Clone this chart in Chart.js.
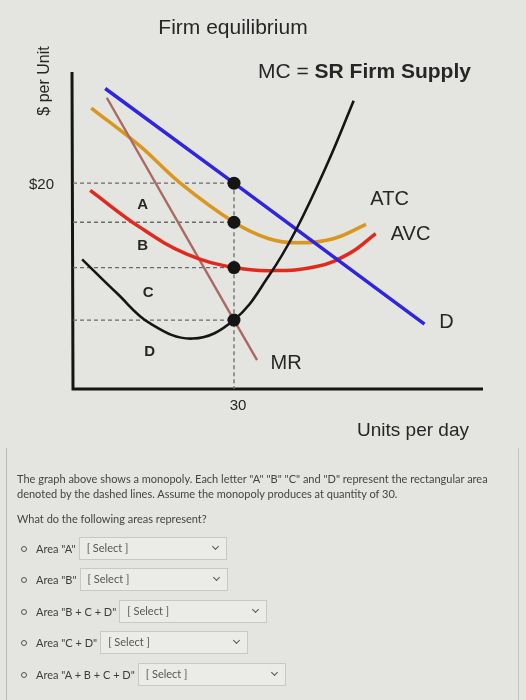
<!DOCTYPE html>
<html>
<head>
<meta charset="utf-8">
<script src="https://cdn.jsdelivr.net/npm/chart.js@4.4.1/dist/chart.umd.min.js"></script>
<style>
  html, body { margin: 0; padding: 0; }
  body { width: 526px; height: 700px; background: #e4e4e0; overflow: hidden; position: relative; font-family: Lato, sans-serif; }
  #chartCanvas { position: absolute; left: 0; top: 0; }
  .card { position: absolute; left: 6px; top: 448px; width: 511px; height: 260px; border-left: 1px solid #b9b9b6; border-right: 1px solid #c4c4c0; }
  .card p { margin: 0; position: absolute; left: 10px; color: #444; font-size: 11px; line-height: 15px; }
  .q1 { top: 23px; width: 490px; }
  .q2 { top: 63px; }
  .row { position: absolute; left: 14px; height: 23px; display: flex; align-items: center; font-size: 11px; color: #3d3d3d; }
  .row .dot { width: 4px; height: 4px; border: 1px solid #555; border-radius: 50%; margin-right: 9px; }
  .sel { margin-left: 3px; width: 148px; height: 23px; border: 1px solid #c8c8c4; background: #ebebe8; position: relative; box-sizing: border-box; }
  .sel span { position: absolute; left: 7px; top: 3px; font-size: 11px; color: #555; }
  .sel i { position: absolute; right: 8px; top: 6px; width: 4px; height: 4px; border-right: 1.5px solid #555; border-bottom: 1.5px solid #555; transform: rotate(45deg); }
</style>
</head>
<body>
<canvas id="chartCanvas" width="526" height="450"></canvas>

<div class="card">
  <p class="q1">The graph above shows a monopoly. Each letter "A" "B" "C" and "D" represent the rectangular area denoted by the dashed lines. Assume the monopoly produces at quantity of 30.</p>
  <p class="q2">What do the following areas represent?</p>
  <div class="row" style="top:89px"><div class="dot"></div>Area "A"<div class="sel"><span>[ Select ]</span><i></i></div></div>
  <div class="row" style="top:120px"><div class="dot"></div>Area "B"<div class="sel"><span>[ Select ]</span><i></i></div></div>
  <div class="row" style="top:152px"><div class="dot"></div>Area "B + C + D"<div class="sel"><span>[ Select ]</span><i></i></div></div>
  <div class="row" style="top:183px"><div class="dot"></div>Area "C + D"<div class="sel"><span>[ Select ]</span><i></i></div></div>
  <div class="row" style="top:215px"><div class="dot"></div>Area "A + B + C + D"<div class="sel"><span>[ Select ]</span><i></i></div></div>
</div>

<script>
// quantity produced and the prices read at that quantity
const qEq = 30;
const eqPrices = [20, 16.2, 11.8, 6.7];   // D, ATC, AVC, MC at q=30

// demand (blue)
const demandQ = [6, 30, 65.5];
const demandP = [29.2, 20, 6.3];

// marginal revenue
const mrQ = [6.3, 30, 34.3];
const mrP = [28.3, 6.7, 2.8];

// average total cost
const atcQ = [3.4, 12.5, 20, 30, 36.5, 42, 48.5, 54.6];
const atcP = [27.3, 23.6, 20.0, 16.2, 14.6, 14.2, 14.6, 16.0];

// average variable cost
const avcQ = [3.2, 12.5, 21.2, 30, 37, 45.4, 51.6, 56.4];
const avcP = [19.3, 15.7, 13.1, 11.8, 11.5, 11.9, 13.2, 15.1];

// marginal cost
const mcQ = [1.7, 8.2, 14.3, 22.3, 30, 36.5, 41.5, 47.5, 52.3];
const mcP = [12.6, 9.3, 6.4, 4.9, 6.7, 11.0, 15.4, 22.0, 28.0];

const xTicks = [30];
const yTicks = [20];

const pts = (xs, ys) => xs.map((x, i) => ({ x: x, y: ys[i] }));

const dashed = [];
eqPrices.forEach(p => dashed.push({ data: [{ x: 0, y: p }, { x: qEq, y: p }] }));
dashed.push({ data: [{ x: qEq, y: eqPrices[0] }, { x: qEq, y: 0 }] });

const datasets = [
  { data: eqPrices.map(p => ({ x: qEq, y: p })), showLine: false, pointRadius: 6.5,
    pointBackgroundColor: "#151515", pointBorderWidth: 0 },
  { data: pts(mcQ, mcP), borderColor: "#151515", borderWidth: 2.6, tension: 0.4 },
  { data: pts(demandQ, demandP), borderColor: "#2f24e0", borderWidth: 3.5 },
  { data: pts(avcQ, avcP), borderColor: "#e02a1e", borderWidth: 3.5, tension: 0.4 },
  { data: pts(mrQ, mrP), borderColor: "#a86a62", borderWidth: 2.4 },
  { data: pts(atcQ, atcP), borderColor: "#d9971f", borderWidth: 3.5, tension: 0.4 }
].concat(dashed.map(d => ({ data: d.data, borderColor: "#6a6a6a", borderWidth: 1.3, borderDash: [4, 3] })));

const axesAndText = {
  id: "axesAndText",
  beforeDatasetsDraw(chart) {
    const ctx = chart.ctx, xs = chart.scales.x, ys = chart.scales.y;
    const x0 = xs.getPixelForValue(0), y0 = ys.getPixelForValue(0);
    ctx.save();
    ctx.strokeStyle = "#151515";
    ctx.lineWidth = 3;
    ctx.beginPath();
    ctx.moveTo(x0 - 1, ys.top);
    ctx.lineTo(x0, y0);
    ctx.lineTo(xs.right, y0);
    ctx.stroke();
    ctx.restore();
  },
  afterDraw(chart) {
    const ctx = chart.ctx, xs = chart.scales.x, ys = chart.scales.y;
    const px = v => xs.getPixelForValue(v), py = v => ys.getPixelForValue(v);
    ctx.save();
    ctx.fillStyle = "#262626";
    ctx.textBaseline = "middle";
    ctx.textAlign = "center";

    ctx.font = "21px 'Liberation Sans'";
    ctx.fillText("Firm equilibrium", 233, 28);

    // MC = SR Firm Supply
    ctx.textAlign = "left";
    const a = "MC = ";
    ctx.fillText(a, 258, 72);
    const w = ctx.measureText(a).width;
    ctx.font = "bold 21px 'Liberation Sans'";
    ctx.fillText("SR Firm Supply", 258 + w, 72);

    // curve labels
    ctx.textAlign = "center";
    ctx.font = "20px 'Liberation Sans'";
    ctx.fillText("ATC", px(59), py(18.4));
    ctx.fillText("AVC", px(62.9), py(15));
    ctx.fillText("D", px(69.6), py(6.5));
    ctx.fillText("MR", px(39.7), py(2.5));

    // area letters
    ctx.font = "bold 15px 'Liberation Sans'";
    ctx.fillText("A", px(13), py(17.9));
    ctx.fillText("B", px(13), py(13.9));
    ctx.fillText("C", px(14), py(9.3));
    ctx.fillText("D", px(14.3), py(3.6));

    // ticks
    ctx.font = "15px 'Liberation Sans'";
    xTicks.forEach(t => ctx.fillText(String(t), px(t) + 4, py(0) + 17));
    ctx.textAlign = "right";
    yTicks.forEach(t => ctx.fillText("$" + t, px(0) - 19, py(t) + 2));

    // axis titles
    ctx.textAlign = "center";
    ctx.font = "19px 'Liberation Sans'";
    ctx.fillText("Units per day", 413, 431);
    ctx.save();
    ctx.translate(45, 81);
    ctx.rotate(-Math.PI / 2);
    ctx.font = "16px 'Liberation Sans'";
    ctx.fillText("$ per Unit", 0, 0);
    ctx.restore();
    ctx.restore();
  }
};

new Chart(document.getElementById("chartCanvas"), {
  type: "line",
  data: { datasets: datasets },
  options: {
    responsive: false,
    animation: false,
    devicePixelRatio: 1,
    layout: { padding: { left: 73, right: 43, top: 72, bottom: 61 } },
    elements: { point: { radius: 0 }, line: { fill: false } },
    scales: {
      x: { type: "linear", min: 0, max: 76.4, display: false },
      y: { type: "linear", min: 0, max: 30.8, display: false }
    },
    plugins: { legend: { display: false }, tooltip: { enabled: false } }
  },
  plugins: [axesAndText]
});
</script>
</body>
</html>
